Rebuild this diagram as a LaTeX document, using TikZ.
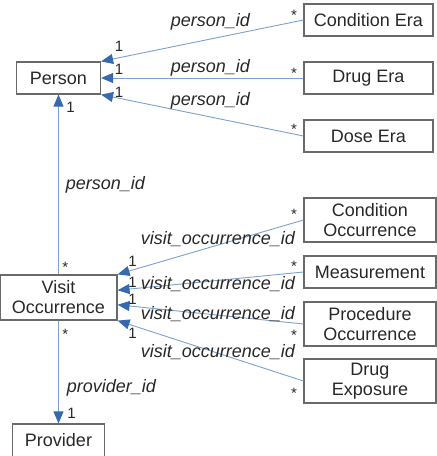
\documentclass[tikz,border=0pt]{standalone}
\usepackage{fontspec}
\setmainfont{Liberation Sans}
\usetikzlibrary{arrows.meta}
\definecolor{boxgray}{RGB}{105,105,105}
\definecolor{linkblue}{RGB}{125,160,205}
\definecolor{headblue}{RGB}{55,105,175}
\definecolor{txtgray}{RGB}{40,40,40}

\begin{document}
\begin{tikzpicture}[x=1pt, y=-1pt,
    table/.style={rectangle, draw=boxgray, line width=1.2pt, inner sep=0pt,
      text=txtgray, align=center, font=\fontsize{18}{20}\selectfont},
    fk/.style={draw=linkblue, line width=0.9pt,
      -{Triangle[length=12pt, width=10pt, color=headblue]}},
    mult/.style={inner sep=0pt, text=txtgray, font=\fontsize{15}{15}\selectfont},
    key/.style={inner sep=0pt, text=txtgray, font=\fontsize{18}{18}\selectfont\itshape}]
      \useasboundingbox (0, 0) rectangle (437, 456);

      \node (person) [table, minimum width=84pt, minimum height=32pt] at (58.5, 78) {Person};
      \node (visit) [table, minimum width=117pt, minimum height=45pt] at (58.5, 297.5) {Visit\\Occurrence};
      \node (provider) [table, minimum width=92pt, minimum height=33pt] at (58.5, 440.5) {Provider};

      \node (condera) [table, minimum width=129pt, minimum height=32pt] at (368.5, 20) {Condition Era};
      \node (drugera) [table, minimum width=129pt, minimum height=32pt] at (368.5, 78) {Drug Era};
      \node (doseera) [table, minimum width=129pt, minimum height=32pt] at (368.5, 136) {Dose Era};

      \node (condocc) [table, minimum width=132pt, minimum height=44pt] at (370, 220) {Condition\\Occurrence};
      \node (measure) [table, minimum width=132pt, minimum height=32pt] at (370, 272) {Measurement};
      \node (prococc) [table, minimum width=132pt, minimum height=44pt] at (370, 324) {Procedure\\Occurrence};
      \node (drugexp) [table, minimum width=132pt, minimum height=44pt] at (370, 381) {Drug\\Exposure};

      \draw[fk] (condera.west) -- (person.north east)
        node [mult, pos=0, anchor=base east, xshift=-6pt] {*}
        node [mult, pos=1, anchor=base, xshift=18pt, yshift=10pt] {1}
        node [key, pos=0.46, yshift=17pt] {person\_id};
      \draw[fk] (drugera.west) -- (person.east)
        node [mult, pos=0, anchor=base east, xshift=-6pt] {*}
        node [mult, pos=1, anchor=base, xshift=18pt, yshift=4pt] {1}
        node [key, pos=0.46, yshift=10.5pt] {person\_id};
      \draw[fk] (doseera.west) -- (person.south east)
        node [mult, pos=0, anchor=base east, xshift=-6pt, yshift=2pt] {*}
        node [mult, pos=1, anchor=base, xshift=18pt, yshift=-3pt] {1}
        node [key, pos=0.46, yshift=16.5pt] {person\_id};

      \draw[fk] (visit.north) -- (person.south)
        node [mult, pos=0, anchor=base west, xshift=3.5pt, yshift=2pt] {*}
        node [mult, pos=1, anchor=base, xshift=12pt, yshift=-18pt] {1}
        node [key, midway, anchor=west, xshift=7pt] {person\_id};
      \draw[fk] (visit.south) -- (provider.north)
        node [mult, pos=0, anchor=base west, xshift=3.5pt, yshift=-19pt] {*}
        node [mult, pos=1, anchor=base, xshift=13pt, yshift=5pt] {1}
        node [key, pos=0.65, anchor=west, xshift=8pt] {provider\_id};

      \draw[fk] (condocc.west) -- (visit.north east)
        node [mult, pos=0, anchor=base east, xshift=-6pt, yshift=1pt] {*}
        node [mult, pos=1, anchor=base, xshift=15pt, yshift=8pt] {1}
        node [key, pos=0.46, yshift=6pt] {visit\_occurrence\_id};
      \draw[fk] (measure.west) -- (visit.7)
        node [mult, pos=0, anchor=base east, xshift=-6pt, yshift=1pt] {*}
        node [mult, pos=1, anchor=base, xshift=15pt, yshift=3pt] {1}
        node [key, pos=0.46, yshift=-4pt] {visit\_occurrence\_id};
      \draw[fk] (prococc.west) -- (visit.-7)
        node [mult, pos=0, anchor=base east, xshift=-6pt, yshift=-16pt] {*}
        node [mult, pos=1, anchor=base, xshift=15pt, yshift=0pt] {1}
        node [key, pos=0.46, yshift=1.5pt] {visit\_occurrence\_id};
      \draw[fk] (drugexp.west) -- (visit.south east)
        node [mult, pos=0, anchor=base east, xshift=-6pt, yshift=-17pt] {*}
        node [mult, pos=1, anchor=base, xshift=15pt, yshift=-18pt] {1}
        node [key, pos=0.46, yshift=1.5pt] {visit\_occurrence\_id};
    \end{tikzpicture}
\end{document}
